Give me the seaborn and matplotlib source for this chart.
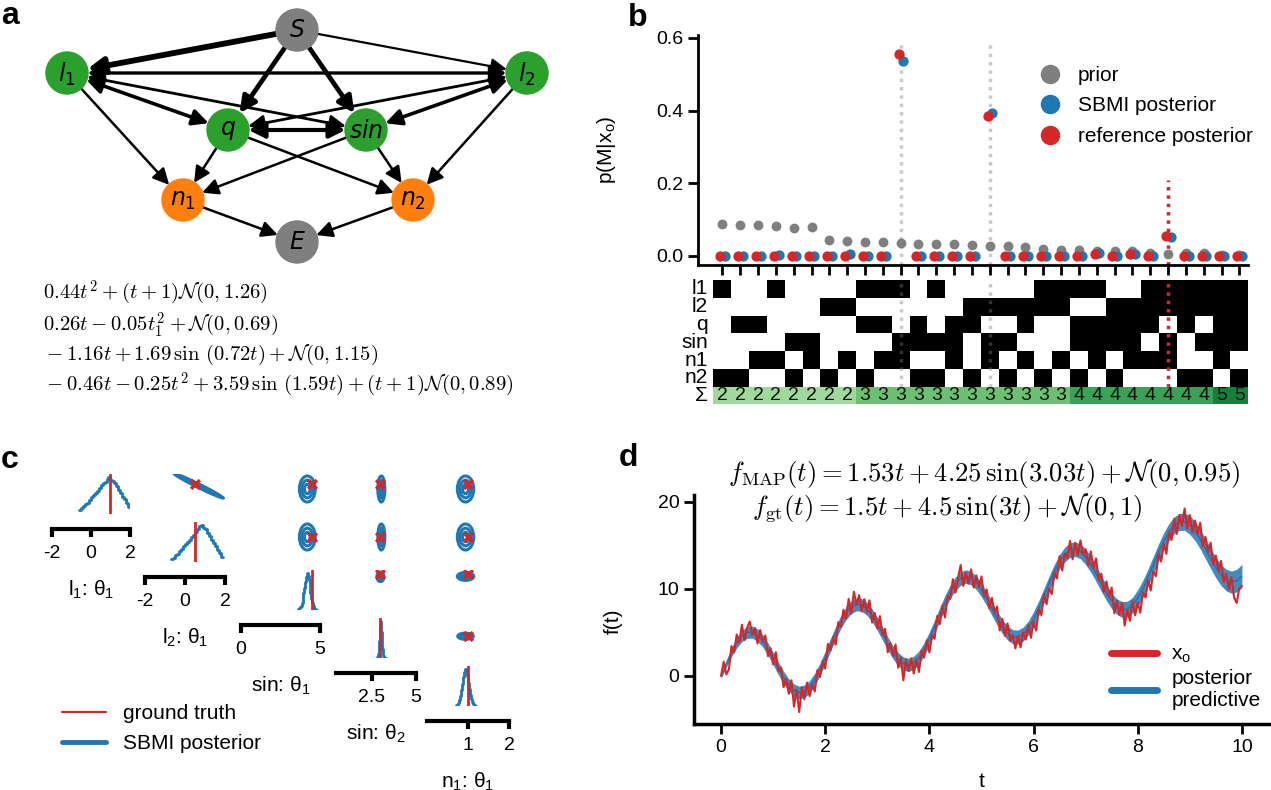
import numpy as np
import pandas as pd
import seaborn as sns
import matplotlib.pyplot as plt
from matplotlib.patches import Circle, Ellipse, FancyArrowPatch
from matplotlib.lines import Line2D
from matplotlib.colors import ListedColormap

# ---------------- data ----------------
# panel a: model graph
node_names = ['S', 'l1', 'l2', 'q', 'sin', 'n1', 'n2', 'E']
node_labels = ['$S$', '$l_1$', '$l_2$', '$q$', '$sin$', '$n_1$', '$n_2$', '$E$']
node_kind = ['se', 'lin', 'lin', 'lin', 'lin', 'noise', 'noise', 'se']
node_x = [297, 67, 527, 228, 366, 183, 413, 297]
node_y = [30, 73, 73, 130, 130, 200, 200, 242]
edge_src = ['S', 'S', 'S', 'S', 'l1', 'l1', 'l1', 'l2', 'l2', 'q',
            'l1', 'q', 'sin', 'l2', 'q', 'sin', 'n1', 'n2']
edge_dst = ['l1', 'l2', 'q', 'sin', 'l2', 'q', 'sin', 'q', 'sin', 'sin',
            'n1', 'n1', 'n1', 'n2', 'n2', 'n2', 'E', 'E']
edge_w = [4.2, 1.6, 3.4, 3.4, 2.4, 2.6, 2.0, 2.0, 2.6, 3.0,
          1.8, 1.8, 1.8, 1.8, 1.8, 1.8, 1.8, 1.8]
edge_both = [False, False, False, False, True, True, True, True, True, True,
             False, False, False, False, False, False, False, False]
equations = [r'$0.44t^2 + (t+1)\mathcal{N}(0, 1.26)$',
             r'$0.26t - 0.05t_1^2 + \mathcal{N}(0, 0.69)$',
             r'${} - 1.16t + 1.69\,\sin\,(0.72t) + \mathcal{N}(0, 1.15)$',
             r'${} - 0.46t - 0.25t^2 + 3.59\,\sin\,(1.59t) + (t+1)\mathcal{N}(0, 0.89)$']

# panel b: model probabilities (30 candidate models)
prior_p = [0.089, 0.084, 0.084, 0.083, 0.077, 0.079, 0.045, 0.041, 0.038, 0.038,
           0.036, 0.034, 0.033, 0.033, 0.029, 0.027, 0.028, 0.025, 0.018, 0.017,
           0.016, 0.013, 0.014, 0.013, 0.008, 0.005, 0.007, 0.007, 0.003, 0.003]
sbmi_p = [0.0, 0.0, 0.0, 0.003, 0.0, 0.0, 0.0, 0.004, 0.0, 0.0,
          0.537, 0.0, 0.0, 0.0, 0.0, 0.392, 0.0, 0.0, 0.0, 0.0,
          0.0, 0.007, 0.0, 0.005, 0.0, 0.053, 0.0, 0.0, 0.0, 0.0]
ref_p = [0.0, 0.0, 0.0, 0.0, 0.0, 0.0, 0.0, 0.0, 0.0, 0.0,
         0.555, 0.0, 0.0, 0.0, 0.0, 0.385, 0.0, 0.0, 0.0, 0.0,
         0.0, 0.004, 0.0, 0.004, 0.0, 0.056, 0.0, 0.0, 0.0, 0.0]
comp_names = ['l1', 'l2', 'q', 'sin', 'n1', 'n2']
comp_l1 = [1, 0, 0, 1, 0, 0, 0, 0, 1, 1, 1, 0, 1, 0, 0, 0, 0, 0, 1, 1, 1, 1, 0, 0, 1, 1, 1, 1, 1, 1]
comp_l2 = [0, 0, 0, 0, 0, 0, 1, 1, 0, 0, 0, 0, 0, 0, 1, 1, 1, 1, 1, 1, 0, 0, 1, 1, 1, 1, 1, 1, 1, 1]
comp_q = [0, 1, 1, 0, 0, 0, 0, 0, 1, 1, 0, 1, 0, 1, 1, 0, 0, 1, 0, 0, 1, 1, 1, 1, 1, 0, 1, 0, 1, 1]
comp_sin = [0, 0, 0, 0, 1, 1, 0, 0, 0, 0, 1, 1, 1, 1, 0, 1, 1, 0, 0, 0, 1, 1, 1, 1, 0, 1, 0, 1, 1, 1]
comp_n1 = [0, 0, 1, 1, 0, 1, 0, 1, 0, 1, 1, 0, 0, 1, 0, 1, 0, 1, 0, 1, 0, 1, 0, 1, 1, 1, 0, 0, 1, 0]
comp_n2 = [1, 1, 0, 0, 1, 0, 1, 0, 1, 0, 0, 1, 1, 0, 1, 0, 1, 0, 1, 0, 1, 0, 1, 0, 0, 0, 1, 1, 0, 1]
map_models = [10, 15]
true_model = 25

# panel c: posterior marginals
c_labels = ['l$_1$: θ$_1$', 'l$_2$: θ$_1$', 'sin: θ$_1$', 'sin: θ$_2$', 'n$_1$: θ$_1$']
c_truth = [1.0, 0.5, 4.5, 3.0, 1.0]
c_lims = [(-2, 2), (-2, 2), (0, 5), (0.5, 5), (0, 2)]
c_ticks = [[-2, 0, 2], [-2, 0, 2], [0, 5], [2.5, 5], [1, 2]]
c_ticklabels = [['-2', '0', '2'], ['-2', '0', '2'], ['0', '5'], ['2.5', '5'], ['1', '2']]
hist_range = [(-0.6, 2.0), (-0.7, 1.9), (3.6, 4.8), (2.8, 3.3), (0.7, 1.2)]
hist_l1 = [0.10, 0.16, 0.21, 0.28, 0.31, 0.38, 0.45, 0.50, 0.58, 0.63, 0.70, 0.77, 0.83,
           0.86, 0.94, 1.00, 0.92, 0.90, 0.84, 0.76, 0.66, 0.58, 0.47, 0.40, 0.30, 0.20]
hist_l2 = [0.08, 0.12, 0.18, 0.22, 0.30, 0.34, 0.42, 0.48, 0.55, 0.60, 0.68, 0.74, 0.80,
           0.90, 0.96, 1.00, 0.93, 0.88, 0.78, 0.70, 0.60, 0.52, 0.42, 0.33, 0.24, 0.14]
hist_amp = [0.02, 0.03, 0.05, 0.08, 0.12, 0.20, 0.30, 0.45, 0.60, 0.75, 0.90, 0.98,
            1.00, 0.93, 0.80, 0.62, 0.45, 0.30, 0.18, 0.10, 0.06, 0.03, 0.02, 0.01]
hist_freq = [0.01, 0.02, 0.05, 0.12, 0.25, 0.45, 0.70, 0.92, 1.00, 0.90,
             0.70, 0.45, 0.25, 0.12, 0.05, 0.02, 0.01, 0.0, 0.0, 0.0]
hist_noise = [0.02, 0.04, 0.08, 0.15, 0.27, 0.42, 0.60, 0.78, 0.93, 1.00,
              0.95, 0.80, 0.62, 0.45, 0.30, 0.18, 0.10, 0.05, 0.03, 0.01]
hists = [hist_l1, hist_l2, hist_amp, hist_freq, hist_noise]
# pairwise posterior shapes: (row, col), centre, extent, angle
pair_rc = [(0, 1), (0, 2), (0, 3), (0, 4), (1, 2), (1, 3), (1, 4), (2, 3), (2, 4), (3, 4)]
pair_cx = [0.68, 4.2, 3.05, 0.94, 4.2, 3.05, 0.94, 3.0, 0.94, 0.94]
pair_cy = [0.82, 0.5, 0.5, 0.5, 0.5, 0.5, 0.5, 4.15, 4.2, 2.95]
pair_w = [3.5, 1.0, 0.4, 0.4, 1.0, 0.4, 0.4, 0.4, 0.4, 0.38]
pair_h = [0.3, 2.6, 2.6, 2.6, 2.6, 2.6, 2.6, 1.2, 1.0, 0.7]
pair_angle = [-45, 0, 0, 0, 0, 0, 0, 0, 0, 0]

# panel d: observation and posterior predictive
xo = [0.0, 1.64, 0.18, 0.76, 3.44, 2.71, 4.77, 3.88, 5.89, 4.12,
      5.54, 6.26, 4.68, 5.51, 3.73, 5.29, 3.94, 4.66, 2.27, 3.20,
      1.33, 2.74, 0.54, 0.98, -1.29, -0.37, -2.05, -0.49, -3.52, -1.59,
      -4.15, -1.32, -2.68, -0.75, -2.32, -1.00, -1.78, 0.69, -0.13, 1.76,
      0.84, 3.69, 2.93, 4.47, 3.60, 6.18, 5.65, 7.61, 6.57, 8.87,
      7.17, 9.68, 8.19, 9.30, 7.41, 8.83, 7.35, 8.69, 6.13, 7.24,
      5.45, 6.88, 4.71, 5.42, 2.72, 3.76, 2.29, 3.62, 0.95, 2.12,
      -0.51, 1.84, 0.59, 2.03, 0.27, 1.92, 0.46, 2.89, 2.12, 4.11,
      2.69, 4.68, 4.27, 6.91, 5.95, 8.09, 6.72, 9.19, 8.86, 11.12,
      9.57, 11.26, 12.75, 10.35, 11.85, 10.65, 12.25, 10.16, 11.56, 10.20,
      11.43, 9.14, 9.94, 7.77, 8.99, 7.29, 7.99, 5.23, 6.57, 4.61,
      6.04, 4.03, 4.71, 3.17, 4.62, 3.28, 5.03, 4.19, 5.84, 4.38,
      6.22, 5.21, 7.70, 7.00, 9.39, 8.24, 10.08, 9.41, 11.94, 11.21,
      13.77, 12.12, 14.06, 13.54, 15.52, 13.41, 15.30, 13.89, 15.58, 13.98,
      14.57, 12.70, 14.32, 12.42, 13.52, 11.04, 11.76, 9.67, 10.87, 9.12,
      10.16, 7.20, 8.64, 7.03, 8.42, 5.79, 7.56, 6.33, 8.59, 6.96,
      8.42, 7.27, 9.62, 9.02, 11.02, 9.82, 12.01, 11.46, 14.10, 13.14,
      15.17, 14.03, 16.58, 15.62, 18.06, 16.33, 18.49, 17.27, 19.25, 16.93,
      18.50, 16.49, 17.87, 16.29, 17.61, 14.90, 15.99, 14.21, 15.33, 12.84,
      13.84, 11.99, 13.24, 10.79, 11.74, 9.94, 11.34, 9.02, 8.39, 10.07,
      10.35]
pp_center = [0.00, 1.42, 2.73, 3.81, 4.59, 5.01, 5.04, 4.69, 4.02, 3.09,
             2.00, 0.87, -0.18, -1.05, -1.65, -1.90, -1.76, -1.25, -0.38, 0.77,
             2.12, 3.55, 4.95, 6.21, 7.22, 7.91, 8.23, 8.16, 7.72, 6.97,
             5.99, 4.88, 3.76, 2.74, 1.93, 1.42, 1.27, 1.51, 2.12, 3.07,
             4.29, 5.67, 7.10, 8.48, 9.68, 10.61, 11.20, 11.42, 11.25, 10.72,
             9.90, 8.88, 7.75, 6.65, 5.68, 4.94, 4.52, 4.47, 4.81, 5.52,
             6.54, 7.81, 9.22, 10.65, 11.99, 13.13, 13.97, 14.47, 14.58, 14.32,
             13.70, 12.82, 11.76, 10.63, 9.55, 8.63, 7.97, 7.64, 7.69, 8.13,
             8.93, 10.03, 11.34, 12.77, 14.19, 15.48, 16.55, 17.31, 17.71, 17.72,
             17.35, 16.67, 15.72, 14.63, 13.51, 12.46, 11.60, 11.02, 10.79, 10.95,
             11.48]
pp_halfwidth = [0.30, 0.40, 0.50, 0.58, 0.64, 0.68, 0.70, 0.70, 0.70, 0.70,
                0.72, 0.72, 0.72, 0.72, 0.72, 0.72, 0.72, 0.72, 0.72, 0.72,
                0.74, 0.74, 0.74, 0.74, 0.74, 0.74, 0.74, 0.74, 0.74, 0.74,
                0.76, 0.76, 0.76, 0.76, 0.76, 0.76, 0.76, 0.76, 0.76, 0.76,
                0.78, 0.78, 0.78, 0.78, 0.78, 0.78, 0.78, 0.78, 0.78, 0.78,
                0.80, 0.80, 0.80, 0.80, 0.80, 0.80, 0.80, 0.80, 0.80, 0.80,
                0.84, 0.84, 0.84, 0.84, 0.84, 0.84, 0.84, 0.84, 0.84, 0.84,
                0.90, 0.90, 0.90, 0.90, 0.90, 0.90, 0.90, 0.90, 0.90, 0.90,
                0.98, 0.98, 0.98, 0.98, 0.98, 0.98, 0.98, 0.98, 0.98, 0.98,
                1.08, 1.10, 1.12, 1.14, 1.16, 1.18, 1.21, 1.24, 1.27, 1.30,
                1.34]

# ---------------- style ----------------
sns.set_style('ticks')
plt.rcParams['font.family'] = ['Liberation Sans', 'DejaVu Sans']
plt.rcParams['mathtext.fontset'] = 'custom'
plt.rcParams['mathtext.rm'] = 'Liberation Sans'
plt.rcParams['mathtext.it'] = 'Liberation Sans:italic'
plt.rcParams['mathtext.bf'] = 'Liberation Sans:bold'
for key in ['text.color', 'axes.labelcolor', 'xtick.color', 'ytick.color', 'axes.edgecolor']:
    plt.rcParams[key] = 'black'

BLUE, RED, GREY = '#1f77b4', '#d62728', '#7f7f7f'
GREEN, ORANGE = '#2ca02c', '#ff7f0e'

W, H = 1271, 790
fig = plt.figure(figsize=(W / 100, H / 100), dpi=100)


def box(x0, y0, x1, y1):
    # axes from pixel box (top-left origin)
    return fig.add_axes([x0 / W, 1 - y1 / H, (x1 - x0) / W, (y1 - y0) / H])


def panel_label(x, y, s):
    fig.text(x / W, 1 - y / H, s, fontsize=23, fontweight='bold', ha='center', va='center')


# ---------------- panel a ----------------
axa = box(0, 0, 600, 265)
axa.set_xlim(0, 600)
axa.set_ylim(265, 0)
axa.axis('off')
kind_color = {'se': GREY, 'lin': GREEN, 'noise': ORANGE}
circles = {}
for name, lab, kind, x, y in zip(node_names, node_labels, node_kind, node_x, node_y):
    c = Circle((x, y), 21, color=kind_color[kind], zorder=3)
    axa.add_patch(c)
    circles[name] = (c, x, y)
    axa.text(x, y + 1, lab, ha='center', va='center', fontsize=17, zorder=4,
             math_fontfamily='dejavusans')
for s, d, w, both in zip(edge_src, edge_dst, edge_w, edge_both):
    cs, xs, ys = circles[s]
    cd, xd, yd = circles[d]
    arr = FancyArrowPatch((xs, ys), (xd, yd), arrowstyle='<|-|>' if both else '-|>',
                          mutation_scale=24, lw=w, color='black', patchA=cs, patchB=cd,
                          shrinkA=0, shrinkB=0, zorder=2)
    axa.add_patch(arr)

eq_y = [293, 325, 355, 385]
for eq, y in zip(equations, eq_y):
    fig.text(43 / W, 1 - y / H, eq, fontsize=14.9, va='center', ha='left', math_fontfamily='cm')

panel_label(10, 16, 'a')

# ---------------- panel b ----------------
models = np.arange(len(prior_p))
dfb = pd.DataFrame({'model': models, 'prior': prior_p, 'sbmi': sbmi_p, 'ref': ref_p})

axb = box(697.6, 35, 1248.3, 265)
for m in map_models:
    axb.axvline(m, ymin=0, ymax=0.96, color=GREY, alpha=0.4, lw=2.5, ls=(0, (1, 1.4)), zorder=0)
axb.axvline(true_model, ymin=0, ymax=0.37, color=RED, lw=2.5, ls=(0, (1, 1.4)), zorder=0)
sns.scatterplot(data=dfb, x='model', y='prior', color=GREY, s=50, linewidth=0, ax=axb, legend=False)
sns.scatterplot(x=dfb['model'] + 0.15, y=dfb['sbmi'], color=BLUE, s=55, linewidth=0, ax=axb, legend=False)
sns.scatterplot(x=dfb['model'] - 0.12, y=dfb['ref'], color=RED, s=55, linewidth=0, ax=axb, legend=False)
axb.set_xlim(-1.39, 29.5)
axb.set_ylim(-0.025, 0.608)
axb.set_xticks(models)
axb.set_xticklabels([])
axb.set_yticks([0, 0.2, 0.4, 0.6])
axb.set_yticklabels(['0.0', '0.2', '0.4', '0.6'])
axb.set_xlabel('')
axb.set_ylabel('p(M|x$_\\mathrm{o}$)', fontsize=15)
axb.yaxis.set_label_coords(-0.145, 0.5)
axb.tick_params(length=7, width=2, labelsize=14, direction='out')
sns.despine(ax=axb)
for sp in ['left', 'bottom']:
    axb.spines[sp].set_linewidth(2)
leg_handles = [Line2D([], [], ls='', marker='o', ms=13, color=c) for c in (GREY, BLUE, RED)]
axb.legend(leg_handles, ['prior', 'SBMI posterior', 'reference posterior'], loc='upper left',
           bbox_to_anchor=((1040 - 697.6) / 550.7, (265 - 66) / 230), frameon=False, fontsize=15,
           handlelength=1.0, handletextpad=0.8, labelspacing=0.55, borderpad=0, borderaxespad=0)

# component matrix
comp = np.array([comp_l1, comp_l2, comp_q, comp_sin, comp_n1, comp_n2])
full = np.vstack([comp, comp.sum(axis=0)])
mask_bw = np.zeros_like(full, dtype=bool)
mask_bw[-1] = True
axm = box(713.4, 280, 1248.3, 404.5)
sns.heatmap(full, mask=mask_bw, cmap=ListedColormap(['white', 'black']), vmin=0, vmax=1,
            cbar=False, ax=axm)
sns.heatmap(full, mask=~mask_bw, cmap='Greens', vmin=-0.7, vmax=6.45, annot=True, fmt='d',
            annot_kws={'fontsize': 14, 'color': '#111111'}, cbar=False, ax=axm)
for m in map_models:
    axm.axvline(m + 0.5, ymin=1 / 7, ymax=1, color=GREY, alpha=0.4, lw=2.5, ls=(0, (1, 1.4)))
axm.axvline(true_model + 0.5, ymin=1 / 7, ymax=1, color=RED, lw=2.5, ls=(0, (1, 1.4)))
axm.set_xticks([])
axm.set_yticks(np.arange(7) + 0.5)
axm.set_yticklabels(comp_names + ['Σ'], rotation=0, fontsize=15)
axm.tick_params(length=0, pad=4)

panel_label(638, 18, 'b')

# ---------------- panel c ----------------
col_px = [(51.7, 130), (145, 225), (240.7, 320), (336, 416), (427, 509)]
row_px = [(474, 514), (522, 562), (570, 610), (618, 658), (666, 706)]
for i in range(5):
    for j in range(i, 5):
        ax = box(col_px[j][0], row_px[i][0], col_px[j][1], row_px[i][1])
        ax.set_xlim(c_lims[j])
        if i == j:
            heights = hists[i]
            nb = len(heights)
            width = (hist_range[i][1] - hist_range[i][0]) / nb
            centers = hist_range[i][0] + width * (np.arange(nb) + 0.5)
            sns.histplot(x=centers, weights=heights, bins=nb, binrange=hist_range[i],
                         element='step', fill=False, color=BLUE, lw=2, ax=ax)
            ax.axvline(c_truth[i], color=RED, lw=2)
            ax.set_xlim(c_lims[i])
            ax.set_ylim(0, 1.08)
            sns.despine(ax=ax, left=True, offset={'bottom': 11})
            ax.spines['bottom'].set_linewidth(3)
            ax.set_yticks([])
            ax.set_ylabel('')
            ax.set_xticks(c_ticks[i])
            ax.set_xticklabels(c_ticklabels[i])
            ax.tick_params(axis='x', length=6, width=3, labelsize=14, pad=5)
            ax.set_xlabel(c_labels[i], fontsize=15, labelpad=12)
        else:
            ax.set_ylim(c_lims[i])
            ax.axis('off')
            k = pair_rc.index((i, j))
            if pair_angle[k] != 0:
                ax.add_patch(Ellipse((pair_cx[k], pair_cy[k]), pair_w[k], pair_h[k],
                                     angle=pair_angle[k], fc=BLUE, ec=BLUE, lw=2))
            else:
                for sc in (1.0, 0.68, 0.36):
                    ax.add_patch(Ellipse((pair_cx[k], pair_cy[k]), pair_w[k] * sc, pair_h[k] * sc,
                                         fill=False, ec=BLUE, lw=2.2))
            ax.scatter([c_truth[j]], [c_truth[i]], marker='x', color=RED, s=40, linewidths=2.5, zorder=5)

fig.legend([Line2D([], [], color=RED, lw=1.6), Line2D([], [], color=BLUE, lw=3.5)],
           ['ground truth', 'SBMI posterior'], loc='upper left',
           bbox_to_anchor=(52 / W, 1 - 694 / H), frameon=False, fontsize=15,
           handlelength=2.1, handletextpad=0.8, labelspacing=0.5, borderpad=0)

panel_label(10, 460, 'c')

# ---------------- panel d ----------------
t_obs = np.linspace(0, 10, len(xo))
t_pp = np.linspace(0, 10, len(pp_center))
lo = np.array(pp_center) - np.array(pp_halfwidth)
hi = np.array(pp_center) + np.array(pp_halfwidth)

axd = box(694, 495, 1270, 724)
axd.fill_between(t_pp, lo, hi, color=BLUE, alpha=0.85, lw=0)
sns.lineplot(x=t_pp, y=pp_center, color='#1a5f94', lw=1.0, alpha=0.6, ax=axd)
sns.lineplot(x=t_obs, y=xo, color=RED, lw=1.5, ax=axd)
axd.set_xlim(-0.52, 10.54)
axd.set_ylim(-5.52, 20.8)
axd.set_xticks([0, 2, 4, 6, 8, 10])
axd.set_yticks([0, 10, 20])
axd.set_xlabel('t', fontsize=15, labelpad=12)
axd.set_ylabel('f(t)', fontsize=15)
axd.yaxis.set_label_coords((623 - 694) / 576, 0.45)
axd.tick_params(length=7, width=2, labelsize=14)
sns.despine(ax=axd)
for sp in ['left', 'bottom']:
    axd.spines[sp].set_linewidth(2.5)
axd.legend([Line2D([], [], color=RED, lw=5), Line2D([], [], color=BLUE, lw=5)],
           ['x$_\\mathrm{o}$', 'posterior\npredictive'], loc='upper left',
           bbox_to_anchor=((1111 - 694) / 576, (724 - 645) / 229), frameon=False, fontsize=15,
           handlelength=2.2, handletextpad=0.7, labelspacing=0.2, borderpad=0, borderaxespad=0)

fig.text(728 / W, 1 - 473 / H,
         r'$f_{\mathrm{MAP}}(t) = 1.53t + 4.25\,\sin(3.03t) + \mathcal{N}(0, 0.95)$',
         fontsize=19.2, ha='left', va='center', math_fontfamily='cm')
fig.text(752 / W, 1 - 508 / H,
         r'$f_{\mathrm{gt}}(t) = 1.5t + 4.5\,\sin(3t) + \mathcal{N}(0, 1)$',
         fontsize=19.2, ha='left', va='center', math_fontfamily='cm')

panel_label(628, 458, 'd')

fig.savefig('out.png', dpi=100)
